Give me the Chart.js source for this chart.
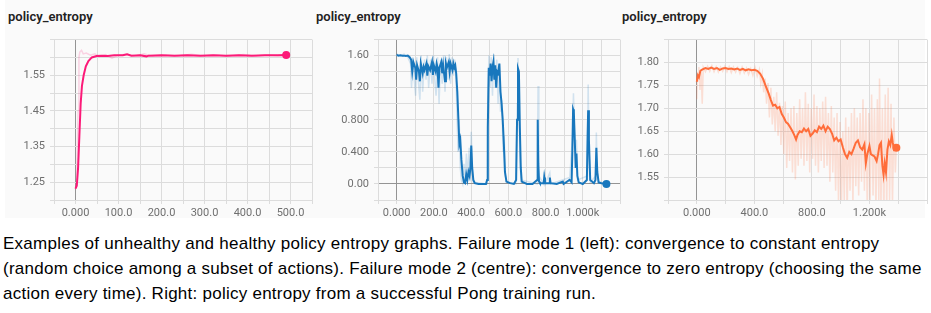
<!DOCTYPE html>
<html>
<head>
<meta charset="utf-8">
<script src="https://cdn.jsdelivr.net/npm/chart.js@4/dist/chart.umd.min.js"></script>
<style>
    html, body { margin: 0; padding: 0; background: #fff; }
    body { width: 931px; height: 313px; position: relative; overflow: hidden; font-family: 'Liberation Sans', Arial, sans-serif; }
    .shot { position: absolute; left: 5px; top: 0; width: 920px; height: 218px; background: #fafafa; }
    .panel-title { position: absolute; top: 10px; font: 600 13px/14px Roboto, sans-serif; color: #222; }
    canvas { position: absolute; }
    .caption { position: absolute; left: 3px; top: 231px; font-size: 17px; letter-spacing: 0.25px; line-height: 25px; color: #000; white-space: nowrap; }
</style>
</head>
<body>
<div class="shot"></div>

<div class="panel-title" style="left: 8px;">policy_entropy</div>
<div class="panel-title" style="left: 316px;">policy_entropy</div>
<div class="panel-title" style="left: 622px;">policy_entropy</div>

<canvas id="chartLeft" width="316" height="197" style="left: 0; top: 28px;"></canvas>
<canvas id="chartCentre" width="312" height="197" style="left: 312px; top: 28px;"></canvas>
<canvas id="chartRight" width="309" height="197" style="left: 622px; top: 28px;"></canvas>

<div class="caption">
    Examples of unhealthy and healthy policy entropy graphs. Failure mode 1 (left): convergence to constant entropy<br>
    (random choice among a subset of actions). Failure mode 2 (centre): convergence to zero entropy (choosing the same<br>
    action every time). Right: policy entropy from a successful Pong training run.
</div>

<script>
// ==================== DATA ====================

// left: converges to a constant entropy
const leftSteps = [0, 3, 6, 9, 12, 15, 19, 24, 30, 38, 49, 60, 75, 90, 110, 120, 130, 150, 165, 170, 200, 230, 260, 290, 320, 350, 380, 410, 440, 470, 490];
const leftEntropy = [1.232, 1.24, 1.29, 1.38, 1.47, 1.52, 1.55, 1.575, 1.59, 1.60, 1.604, 1.605, 1.604, 1.606, 1.606, 1.609, 1.605, 1.606, 1.603, 1.605, 1.606, 1.605, 1.606, 1.605, 1.606, 1.605, 1.606, 1.605, 1.606, 1.606, 1.607];
const leftRawSteps = [0, 3, 6, 8, 10, 14, 18, 25, 35, 45, 55, 70, 85, 100, 120, 140, 160, 180, 210, 240, 270, 300, 330, 360, 390, 420, 450, 480, 490];
const leftRawEntropy = [1.23, 1.26, 1.45, 1.60, 1.615, 1.62, 1.61, 1.612, 1.606, 1.61, 1.603, 1.608, 1.598, 1.607, 1.609, 1.604, 1.61, 1.603, 1.607, 1.605, 1.609, 1.604, 1.607, 1.603, 1.608, 1.605, 1.607, 1.604, 1.607];

// centre: collapses to zero entropy
const centreSteps = [0, 10, 20, 30, 40, 50, 60, 70, 78, 84, 90, 100, 105, 110, 120, 125, 130, 140, 145, 150, 160, 165, 170, 180, 190, 195, 200, 210, 215, 220, 225, 230, 240, 245, 250, 260, 265, 270, 280, 285, 290, 300, 305, 310, 315, 320, 326, 332, 337, 342, 348, 355, 362, 368, 374, 380, 386, 392, 397, 401, 406, 412, 420, 440, 460, 480, 486, 490, 495, 500, 505, 510, 515, 520, 525, 530, 535, 540, 545, 552, 558, 564, 570, 576, 582, 590, 610, 630, 642, 647, 652, 657, 662, 667, 672, 700, 730, 755, 758, 761, 765, 770, 790, 793, 797, 820, 823, 827, 860, 893, 897, 929, 940, 944, 948, 952, 957, 962, 966, 971, 978, 1000, 1022, 1026, 1029, 1033, 1040, 1060, 1068, 1073, 1078, 1085, 1100, 1127];
const centreEntropy = [1.61, 1.60, 1.605, 1.60, 1.60, 1.595, 1.60, 1.58, 1.55, 1.40, 1.52, 1.45, 1.30, 1.48, 1.40, 1.28, 1.50, 1.38, 1.46, 1.42, 1.50, 1.35, 1.47, 1.42, 1.52, 1.36, 1.48, 1.40, 1.50, 1.45, 1.20, 1.45, 1.52, 1.38, 1.48, 1.28, 1.50, 1.45, 1.52, 1.40, 1.50, 1.42, 1.50, 1.45, 1.48, 1.38, 1.15, 0.80, 0.50, 0.55, 0.30, 0.10, 0.02, 0.01, 0.12, 0.05, 0.15, 0.10, 0.22, 0.48, 0.20, 0.05, 0.01, 0.0, 0.0, 0.0, 0.05, 0.70, 1.45, 1.35, 1.50, 1.28, 1.45, 1.52, 1.30, 1.48, 1.20, 1.40, 1.38, 1.50, 1.15, 1.00, 0.80, 0.50, 0.15, 0.03, 0.01, 0.0, 0.05, 0.80, 1.44, 1.40, 0.70, 0.20, 0.03, 0.0, 0.0, 0.05, 0.80, 0.25, 0.03, 0.01, 0.01, 0.08, 0.01, 0.01, 0.08, 0.01, 0.0, 0.03, 0.0, 0.05, 0.02, 0.40, 0.93, 0.90, 0.55, 0.20, 0.38, 0.10, 0.02, 0.0, 0.05, 0.60, 0.92, 0.55, 0.05, 0.01, 0.05, 0.45, 0.15, 0.02, 0.01, 0.0];
const centreRawSteps = [0, 20, 40, 60, 75, 80, 88, 95, 102, 108, 118, 125, 132, 140, 150, 158, 165, 172, 182, 190, 198, 205, 212, 220, 228, 236, 245, 252, 260, 268, 275, 283, 290, 298, 306, 312, 318, 324, 330, 336, 342, 348, 355, 362, 368, 375, 382, 390, 396, 401, 406, 412, 485, 490, 496, 502, 508, 515, 522, 530, 538, 545, 552, 558, 565, 572, 578, 584, 592, 640, 648, 652, 657, 662, 668, 755, 760, 764, 790, 793, 798, 823, 828, 930, 945, 950, 955, 962, 966, 972, 1025, 1029, 1034, 1040, 1070, 1073, 1077, 1085, 1127];
const centreRawEntropy = [1.62, 1.60, 1.62, 1.58, 1.50, 1.20, 1.58, 1.30, 1.10, 1.58, 1.25, 1.05, 1.60, 1.15, 1.55, 1.30, 1.60, 1.20, 1.55, 1.25, 1.60, 1.30, 1.10, 1.58, 1.00, 1.55, 1.25, 1.60, 1.15, 1.58, 1.30, 1.62, 1.25, 1.58, 1.35, 1.55, 1.40, 0.90, 0.40, 0.80, 0.20, 0.05, 0.00, 0.25, 0.05, 0.38, 0.10, 0.45, 0.15, 0.65, 0.20, 0.02, 0.0, 1.10, 1.60, 1.20, 1.58, 1.10, 1.62, 1.20, 1.55, 1.00, 1.50, 0.90, 1.05, 0.40, 0.60, 0.10, 0.02, 0.0, 1.00, 1.57, 1.20, 0.40, 0.05, 0.0, 1.22, 0.10, 0.0, 0.15, 0.0, 0.14, 0.0, 0.08, 0.60, 1.13, 0.70, 0.30, 0.55, 0.05, 0.10, 1.24, 0.40, 0.02, 0.10, 0.64, 0.15, 0.03, 0.0];

// right: healthy Pong run
const rightSteps = [0, 8, 15, 25, 40, 60, 80, 100, 120, 140, 160, 180, 200, 220, 240, 260, 280, 300, 320, 340, 360, 380, 400, 420, 440, 460, 480, 500, 515, 530, 545, 560, 575, 590, 605, 620, 635, 650, 665, 680, 690, 700, 715, 730, 745, 760, 775, 790, 805, 820, 835, 850, 865, 880, 895, 910, 925, 940, 955, 970, 985, 1000, 1015, 1030, 1045, 1060, 1075, 1090, 1105, 1120, 1135, 1150, 1165, 1175, 1185, 1200, 1210, 1220, 1235, 1250, 1260, 1270, 1280, 1290, 1298, 1306, 1315, 1325, 1335, 1345, 1355, 1362, 1370, 1380, 1387];
const rightEntropy = [1.758, 1.772, 1.768, 1.782, 1.785, 1.788, 1.786, 1.789, 1.786, 1.788, 1.784, 1.787, 1.788, 1.786, 1.787, 1.785, 1.787, 1.784, 1.786, 1.783, 1.785, 1.783, 1.784, 1.782, 1.776, 1.765, 1.748, 1.732, 1.718, 1.706, 1.708, 1.700, 1.703, 1.688, 1.680, 1.670, 1.666, 1.658, 1.650, 1.640, 1.632, 1.642, 1.650, 1.648, 1.656, 1.650, 1.655, 1.640, 1.645, 1.652, 1.648, 1.660, 1.655, 1.662, 1.650, 1.660, 1.655, 1.645, 1.630, 1.636, 1.628, 1.632, 1.615, 1.600, 1.592, 1.605, 1.600, 1.612, 1.625, 1.630, 1.615, 1.610, 1.622, 1.580, 1.600, 1.618, 1.600, 1.598, 1.595, 1.585, 1.600, 1.620, 1.625, 1.575, 1.555, 1.580, 1.560, 1.610, 1.628, 1.620, 1.642, 1.625, 1.612, 1.618, 1.614];
const rightRawSteps = [0, 5, 10, 15, 22, 30, 38, 45, 60, 75, 90, 105, 120, 135, 150, 165, 180, 195, 210, 225, 240, 255, 270, 285, 300, 315, 330, 345, 360, 375, 390, 405, 420, 435, 445, 455, 465, 475, 485, 495, 505, 515, 525, 535, 545, 555, 565, 575, 585, 595, 605, 615, 625, 635, 645, 655, 665, 675, 685, 695, 705, 715, 725, 735, 745, 755, 765, 775, 785, 795, 805, 815, 825, 835, 845, 855, 865, 875, 885, 895, 905, 915, 925, 935, 945, 955, 965, 975, 985, 995, 1005, 1015, 1025, 1035, 1045, 1055, 1065, 1075, 1085, 1095, 1105, 1115, 1125, 1135, 1145, 1155, 1165, 1175, 1185, 1195, 1205, 1215, 1225, 1235, 1245, 1255, 1265, 1270, 1280, 1290, 1300, 1310, 1320, 1330, 1340, 1350, 1360, 1370, 1380, 1387];
const rightRawEntropy = [1.72, 1.78, 1.76, 1.79, 1.74, 1.785, 1.71, 1.79, 1.78, 1.792, 1.781, 1.793, 1.780, 1.791, 1.779, 1.790, 1.781, 1.792, 1.780, 1.791, 1.778, 1.790, 1.779, 1.789, 1.776, 1.790, 1.777, 1.788, 1.774, 1.787, 1.772, 1.789, 1.770, 1.785, 1.755, 1.775, 1.735, 1.765, 1.710, 1.755, 1.680, 1.745, 1.665, 1.725, 1.650, 1.735, 1.640, 1.712, 1.620, 1.705, 1.600, 1.715, 1.570, 1.690, 1.585, 1.700, 1.560, 1.705, 1.545, 1.690, 1.575, 1.720, 1.590, 1.700, 1.575, 1.735, 1.585, 1.710, 1.560, 1.700, 1.590, 1.730, 1.575, 1.705, 1.560, 1.700, 1.585, 1.715, 1.570, 1.725, 1.575, 1.690, 1.540, 1.705, 1.560, 1.680, 1.520, 1.690, 1.495, 1.670, 1.480, 1.650, 1.500, 1.680, 1.470, 1.660, 1.520, 1.690, 1.490, 1.700, 1.530, 1.680, 1.510, 1.690, 1.540, 1.720, 1.520, 1.700, 1.480, 1.690, 1.500, 1.730, 1.510, 1.700, 1.470, 1.720, 1.500, 1.765, 1.480, 1.700, 1.460, 1.730, 1.480, 1.745, 1.500, 1.710, 1.490, 1.680, 1.560, 1.620];

// ==================== HELPERS ====================

const GRID_COLOR = '#dcdcdc';
const ZERO_COLOR = '#949494';
const TICK_FONT = { family: 'Roboto, sans-serif', size: 11 };

function toPoints(xs, ys) {
    return xs.map((x, i) => ({ x: x, y: ys[i] }));
}

// tensorboard-ish number format: 0.000, 100.0, 1.000k
function formatTick(value, digits) {
    if (Math.abs(value) >= 1000) {
        return (value / 1000).toPrecision(digits) + 'k';
    }
    return Number(value).toPrecision(digits);
}

const oddNotLast = (i, ticks) => i % 2 === 1 && i < ticks.length - 1;
const innerOnly = (i, ticks) => i > 0 && i < ticks.length - 1;

function axisGrid() {
    return {
        color: (c) => (c.tick && Math.abs(c.tick.value) < 1e-9) ? ZERO_COLOR : GRID_COLOR,
        lineWidth: 1,
        tickLength: 4,
        tickColor: GRID_COLOR
    };
}

/**
 * Draws one policy_entropy panel
 */
function renderPanel(id, cfg) {
    const ctx = document.getElementById(id).getContext('2d');
    const last = cfg.steps.length - 1;

    return new Chart(ctx, {
        type: 'line',
        data: {
            datasets: [{
                data: toPoints(cfg.steps, cfg.values),
                borderColor: cfg.color,
                backgroundColor: cfg.color,
                borderWidth: 2,
                tension: 0,
                pointRadius: (c) => c.dataIndex === last ? 4 : 0,
                pointBorderWidth: 0,
                pointBackgroundColor: cfg.color
            }, {
                data: toPoints(cfg.rawSteps, cfg.rawValues),
                borderColor: cfg.faint,
                borderWidth: 1.5,
                tension: 0,
                pointRadius: 0
            }]
        },
        options: {
            responsive: false,
            animation: false,
            layout: { padding: { top: 7, right: 3, left: 0, bottom: 0 } },
            plugins: {
                legend: { display: false },
                tooltip: { enabled: false }
            },
            scales: {
                x: {
                    type: 'linear',
                    min: cfg.xMin,
                    max: cfg.xMax,
                    grid: axisGrid(),
                    border: { color: GRID_COLOR },
                    ticks: {
                        stepSize: cfg.xStep,
                        includeBounds: false,
                        autoSkip: false,
                        maxRotation: 0,
                        padding: 3,
                        color: '#6f6f6f',
                        font: TICK_FONT,
                        callback: (v, i, ticks) => oddNotLast(i, ticks) ? formatTick(v, 4) : ''
                    },
                    afterFit: (scale) => { scale.height = 25; }
                },
                y: {
                    type: 'linear',
                    min: cfg.yMin,
                    max: cfg.yMax,
                    grid: axisGrid(),
                    border: { color: GRID_COLOR },
                    ticks: {
                        stepSize: cfg.yStep,
                        includeBounds: false,
                        autoSkip: false,
                        padding: 5,
                        color: '#6f6f6f',
                        font: TICK_FONT,
                        callback: (v, i, ticks) => cfg.yLabel(i, ticks) ? formatTick(v, 3) : ''
                    },
                    afterFit: (scale) => { scale.width = cfg.yWidth; }
                }
            }
        }
    });
}

// ==================== RENDER ====================

renderPanel('chartLeft', {
    steps: leftSteps, values: leftEntropy,
    rawSteps: leftRawSteps, rawValues: leftRawEntropy,
    color: '#fc1a78', faint: 'rgba(252, 26, 120, 0.18)',
    xMin: -50, xMax: 550, xStep: 50,
    yMin: 1.2, yMax: 1.65, yStep: 0.05,
    yLabel: oddNotLast, yWidth: 54
});

renderPanel('chartCentre', {
    steps: centreSteps, values: centreEntropy,
    rawSteps: centreRawSteps, rawValues: centreRawEntropy,
    color: '#1877bd', faint: 'rgba(24, 119, 189, 0.18)',
    xMin: -100, xMax: 1200, xStep: 100,
    yMin: -0.2, yMax: 1.8, yStep: 0.2,
    yLabel: oddNotLast, yWidth: 66
});

renderPanel('chartRight', {
    steps: rightSteps, values: rightEntropy,
    rawSteps: rightRawSteps, rawValues: rightRawEntropy,
    color: '#ff6d3a', faint: 'rgba(255, 109, 58, 0.2)',
    xMin: -200, xMax: 1600, xStep: 200,
    yMin: 1.5, yMax: 1.85, yStep: 0.05,
    yLabel: innerOnly, yWidth: 46
});
</script>
</body>
</html>
